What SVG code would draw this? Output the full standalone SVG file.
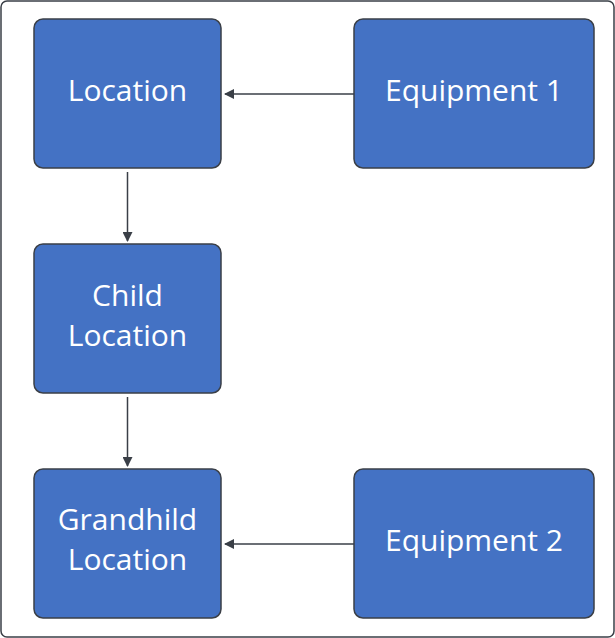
<svg xmlns="http://www.w3.org/2000/svg" width="615" height="638" viewBox="0 0 615 638">
<style>
.n{fill:#4472c4;stroke:#3a3f47;stroke-width:1.5}
.t{font-family:"Open Sans","Liberation Sans",sans-serif;font-size:30px;fill:#fff;text-anchor:middle}
.c{stroke:#3a3f47;stroke-width:1.5;fill:none;marker-end:url(#a)}
</style>
<defs><marker id="a" markerWidth="10" markerHeight="10" refX="9" refY="5" orient="auto" markerUnits="userSpaceOnUse"><path d="M0,0 L10,5 L0,10 Z" fill="#3a3f47"/></marker></defs>
<rect x="1" y="1" width="613" height="636" rx="6" fill="#fff" stroke="#3a3f47" stroke-width="1.5"/>
<g id="location"><rect class="n" x="34" y="19" width="187" height="149" rx="9"/><text class="t" x="127.5" y="101">Location</text></g>
<g id="equipment1"><rect class="n" x="354" y="19" width="240" height="149" rx="9"/><text class="t" x="474" y="101">Equipment 1</text></g>
<g id="child"><rect class="n" x="34" y="244" width="187" height="149" rx="9"/><text class="t" x="127.5" y="306">Child</text><text class="t" x="127.5" y="346">Location</text></g>
<g id="grandchild"><rect class="n" x="34" y="469" width="187" height="149" rx="9"/><text class="t" x="127.5" y="530">Grandhild</text><text class="t" x="127.5" y="570">Location</text></g>
<g id="equipment2"><rect class="n" x="354" y="469" width="240" height="149" rx="9"/><text class="t" x="474" y="551">Equipment 2</text></g>
<g id="connectors">
<path class="c" d="M354,94 H225"/>
<path class="c" d="M127.5,172 V241"/>
<path class="c" d="M127.5,397 V466"/>
<path class="c" d="M354,544 H225"/>
</g>
</svg>
